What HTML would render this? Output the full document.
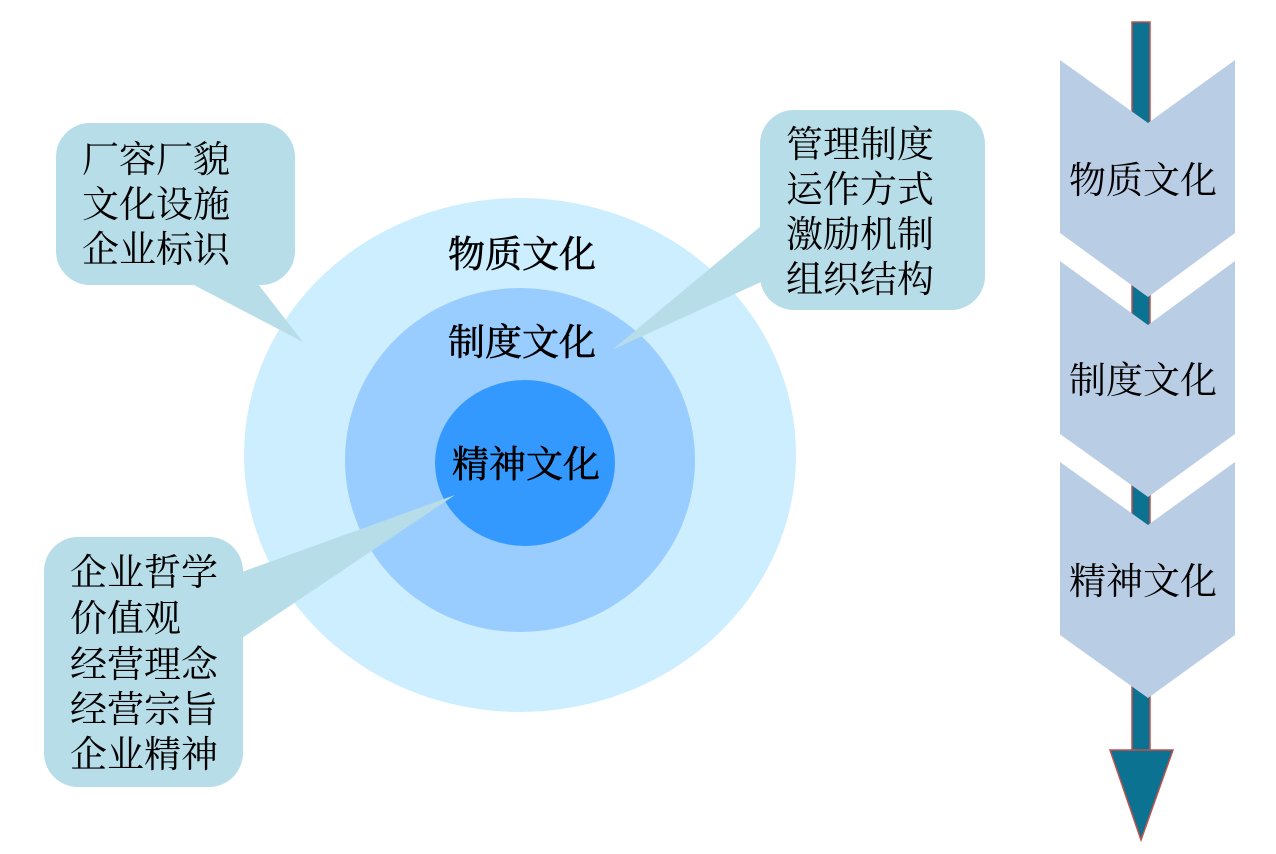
<!DOCTYPE html>
<html><head><meta charset="utf-8"><style>
html,body{margin:0;padding:0;background:#fff;}
svg{display:block;}
text{font-family:"Liberation Serif","Noto Serif CJK SC","Noto Sans CJK SC",serif;fill:#000;}
</style></head><body>
<svg width="1276" height="854" viewBox="0 0 1276 854" xmlns="http://www.w3.org/2000/svg">
<ellipse cx="520" cy="455" rx="276" ry="257" fill="#cdeefe"/>
<ellipse cx="520" cy="460" rx="175" ry="172" fill="#99ccff"/>
<ellipse cx="525" cy="463" rx="90" ry="83" fill="#3399ff"/>
<g font-size="37" text-anchor="middle" stroke="#000" stroke-width="0.6">
<text x="522" y="267">物质文化</text>
<text x="522" y="355">制度文化</text>
<text x="526" y="477">精神文化</text>
</g>
<g fill="#b7dde8">
<rect x="56" y="123" width="239" height="162" rx="34"/>
<polygon points="192,284 258,284 303,342"/>
<rect x="760" y="110" width="225" height="200" rx="34"/>
<polygon points="761,226 761,282 612,350"/>
<rect x="44" y="537" width="199" height="250" rx="34"/>
<polygon points="242,572 242,638 455,495"/>
</g>
<g font-size="37">
<text x="82" y="172">厂容厂貌</text>
<text x="82" y="217">文化设施</text>
<text x="82" y="262">企业标识</text>
<text x="786" y="157">管理制度</text>
<text x="786" y="202">运作方式</text>
<text x="786" y="247">激励机制</text>
<text x="786" y="292">组织结构</text>
<text x="70" y="585">企业哲学</text>
<text x="70" y="631">价值观</text>
<text x="70" y="677">经营理念</text>
<text x="70" y="722">经营宗旨</text>
<text x="70" y="767">企业精神</text>
</g>
<rect x="1132" y="22" width="18" height="730" fill="#0b7391" stroke="#c0504d" stroke-width="1.5"/>
<polygon points="1110,750 1173,750 1141,840" fill="#0b7391" stroke="#c0504d" stroke-width="1.5"/>
<g fill="#b9cde5">
<polygon points="1060,60 1148,123 1235,60 1235,233 1148,297 1060,233"/>
<polygon points="1060,261 1148,325 1235,261 1235,434 1148,497 1060,434"/>
<polygon points="1060,462 1148,525 1235,462 1235,635 1148,698 1060,635"/>
</g>
<g font-size="37" text-anchor="middle">
<text x="1143" y="193">物质文化</text>
<text x="1143" y="393">制度文化</text>
<text x="1143" y="594">精神文化</text>
</g>
</svg>
</body></html>
